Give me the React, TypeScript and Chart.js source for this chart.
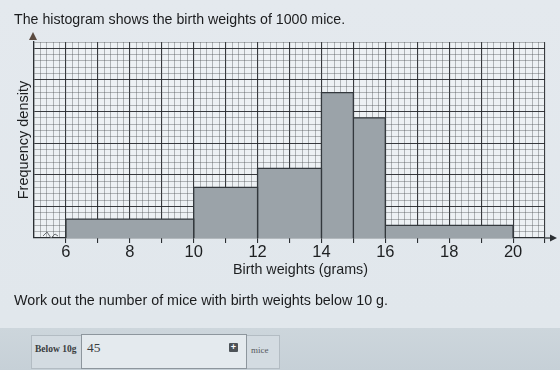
import React, { useEffect, useRef } from "react";
import { Chart, registerables } from "chart.js";

Chart.register(...registerables);

// ---- data ----
const binEdges = [6, 10, 12, 14, 15, 16, 20];
const frequencyDensity = [30, 80, 110, 230, 190, 20];
const xTickLabels = ["6", "8", "10", "12", "14", "16", "18", "20"];
const xMin = 5;
const xMax = 21;
const yMax = 310;
const titleText = "The histogram shows the birth weights of 1000 mice.";
const questionText = "Work out the number of mice with birth weights below 10 g.";
const xTitle = "Birth weights (grams)";
const yTitle = "Frequency density";
const answerLabel = "Below 10g";
const answerValue = "45";
const answerUnit = "mice";

const SANS = "'Liberation Sans', Arial, sans-serif";
const SERIF = "'Liberation Serif', 'Times New Roman', serif";

const decorPlugin = {
  id: "decor",
  beforeDraw(chart: any) {
    const { ctx, chartArea: a } = chart;
    ctx.save();
    ctx.fillStyle = "#edf1f4";
    ctx.fillRect(a.left, a.top, a.right - a.left, a.bottom - a.top);
    ctx.restore();
  },
  afterDraw(chart: any) {
    const { ctx, chartArea: a } = chart;
    ctx.save();
    ctx.strokeStyle = "#2b2f33";
    ctx.fillStyle = "#2b2f33";
    ctx.lineWidth = 1.2;
    // x axis extension + arrow
    ctx.beginPath();
    ctx.moveTo(a.right, a.bottom);
    ctx.lineTo(a.right + 6, a.bottom);
    ctx.stroke();
    ctx.beginPath();
    ctx.moveTo(a.right + 12, a.bottom);
    ctx.lineTo(a.right + 5, a.bottom - 3.5);
    ctx.lineTo(a.right + 5, a.bottom + 3.5);
    ctx.closePath();
    ctx.fill();
    // y axis arrow
    ctx.fillStyle = "#5a4a40";
    ctx.beginPath();
    ctx.moveTo(a.left - 1, a.top - 10);
    ctx.lineTo(a.left - 5, a.top - 2);
    ctx.lineTo(a.left + 3, a.top - 2);
    ctx.closePath();
    ctx.fill();
    // axis break zigzag
    ctx.strokeStyle = "#6a6e72";
    ctx.lineWidth = 1;
    const bx = a.left + 9;
    const by = a.bottom - 2;
    ctx.beginPath();
    ctx.moveTo(bx, by);
    ctx.lineTo(bx + 4, by - 4);
    ctx.lineTo(bx + 8, by + 2);
    ctx.lineTo(bx + 12, by - 2);
    ctx.lineTo(bx + 15, by);
    ctx.stroke();
    ctx.restore();
  },
};

function isMajor(v: number) {
  return Math.abs(v - Math.round(v)) < 1e-6;
}

function HistogramChart() {
  const ref = useRef<HTMLCanvasElement | null>(null);
  useEffect(() => {
    if (!ref.current) return;
    const datasets = frequencyDensity.map((h, i) => {
      const a = binEdges[i];
      const b = binEdges[i + 1];
      return {
        label: `${a}-${b}`,
        data: [
          { x: a, y: 0 },
          { x: a, y: h },
          { x: b, y: h },
          { x: b, y: 0 },
        ],
        showLine: true,
        fill: "origin",
        backgroundColor: "#9ba3a9",
        borderColor: "#33383d",
        borderWidth: 1.3,
        pointRadius: 0,
        tension: 0,
      };
    });
    const chart = new Chart(ref.current, {
      type: "scatter",
      data: { datasets: datasets as any },
      plugins: [decorPlugin],
      options: {
        animation: false,
        responsive: false,
        devicePixelRatio: 1,
        layout: { padding: { top: 42, right: 15, left: 0, bottom: 0 } },
        plugins: {
          legend: { display: false },
          tooltip: { enabled: false },
        },
        scales: {
          x: {
            type: "linear",
            min: xMin,
            max: xMax,
            afterBuildTicks: (scale: any) => {
              const t = [];
              for (let i = xMin * 5; i <= xMax * 5; i++) t.push({ value: i / 5 });
              scale.ticks = t;
            },
            afterFit: (scale: any) => {
              scale.height = 52;
            },
            ticks: {
              autoSkip: false,
              maxRotation: 0,
              padding: 0,
              color: "#1d1f21",
              font: { family: SANS, size: 16.5 },
              callback: (value: any) => {
                const v = Number(value);
                if (!isMajor(v)) return "";
                const s = String(Math.round(v));
                return xTickLabels.includes(s) ? s : "";
              },
            },
            grid: {
              color: (c: any) =>
                isMajor(c.tick.value) ? "rgba(35,38,42,0.9)" : "rgba(70,75,80,0.55)",
              lineWidth: (c: any) => (isMajor(c.tick.value) ? 1.1 : 0.7),
              tickColor: (c: any) =>
                isMajor(c.tick.value) && c.tick.value > xMin ? "#2b2f33" : "rgba(0,0,0,0)",
              tickLength: 5,
            },
            border: { color: "#2b2f33", width: 1.3 },
            title: { display: false },
          },
          y: {
            type: "linear",
            min: 0,
            max: yMax,
            afterBuildTicks: (scale: any) => {
              const t = [];
              for (let i = 0; i <= yMax / 10; i++) t.push({ value: i * 10 });
              scale.ticks = t;
            },
            afterFit: (scale: any) => {
              scale.width = 34;
            },
            ticks: { display: false },
            grid: {
              color: (c: any) =>
                c.tick.value % 50 === 0 ? "rgba(35,38,42,0.9)" : "rgba(70,75,80,0.55)",
              lineWidth: (c: any) => (c.tick.value % 50 === 0 ? 1.1 : 0.7),
              drawTicks: false,
            },
            border: { color: "#2b2f33", width: 1.3 },
            title: {
              display: true,
              text: yTitle,
              color: "#1d1f21",
              font: { family: SANS, size: 14.5 },
              padding: { top: 15, bottom: 0 },
            },
          },
        },
      } as any,
    });
    return () => chart.destroy();
  }, []);
  return (
    <canvas
      ref={ref}
      width={560}
      height={290}
      style={{ position: "absolute", left: 0, top: 0, width: 560, height: 290 }}
    />
  );
}

export default function App() {
  return (
    <div
      style={{
        position: "fixed",
        left: 0,
        top: 0,
        width: 560,
        height: 370,
        overflow: "hidden",
        background: "linear-gradient(180deg, #e4e9ee 0%, #e1e7ec 85%)",
        fontFamily: SANS,
        color: "#1b1c1e",
      }}
    >
      <HistogramChart />
      <div style={{ position: "absolute", left: 14, top: 11, fontSize: 14.2, whiteSpace: "nowrap" }}>
        {titleText}
      </div>
      <div
        style={{
          position: "absolute",
          left: 228,
          width: 145,
          textAlign: "center",
          top: 261,
          fontSize: 14.3,
          whiteSpace: "nowrap",
          color: "#1d1f21",
        }}
      >
        {xTitle}
      </div>
      <div style={{ position: "absolute", left: 14, top: 292, fontSize: 14.3, whiteSpace: "nowrap" }}>
        {questionText}
      </div>
      <div
        style={{
          position: "absolute",
          left: 0,
          top: 328,
          width: 560,
          height: 42,
          background: "linear-gradient(180deg, #cdd6dc 0%, #c6d0d7 100%)",
        }}
      />
      <div
        style={{
          position: "absolute",
          left: 31,
          top: 335,
          width: 249,
          height: 34,
          border: "1px solid #b3bcc3",
          background: "#d3dbe1",
          boxSizing: "border-box",
        }}
      />
      <div
        style={{
          position: "absolute",
          left: 35,
          top: 344,
          fontFamily: SERIF,
          fontSize: 9.5,
          fontWeight: "bold",
          color: "#3a3d40",
          whiteSpace: "nowrap",
        }}
      >
        {answerLabel}
      </div>
      <div
        style={{
          position: "absolute",
          left: 81,
          top: 334,
          width: 166,
          height: 35,
          border: "1px solid #8d969d",
          background: "#e4eaee",
          boxSizing: "border-box",
        }}
      />
      <div
        style={{
          position: "absolute",
          left: 87,
          top: 340,
          fontFamily: SERIF,
          fontSize: 13.5,
          color: "#3a3d40",
        }}
      >
        {answerValue}
      </div>
      <div
        style={{
          position: "absolute",
          left: 229,
          top: 343,
          width: 9,
          height: 9,
          background: "#4d5358",
          borderRadius: 1,
          color: "#fff",
          fontSize: 9,
          lineHeight: "9px",
          textAlign: "center",
          fontWeight: "bold",
        }}
      >
        +
      </div>
      <div
        style={{
          position: "absolute",
          left: 251,
          top: 345,
          fontFamily: SERIF,
          fontSize: 9,
          color: "#55595d",
        }}
      >
        {answerUnit}
      </div>
    </div>
  );
}
